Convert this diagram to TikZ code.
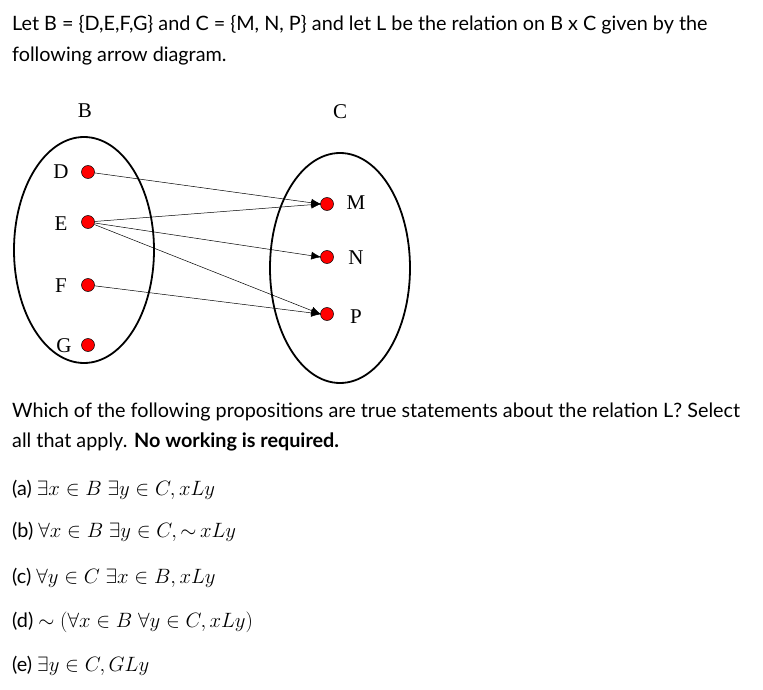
\documentclass[tikz,border=0pt]{standalone}
\usepackage{fontspec}
\setmainfont{Lato}
\newfontfamily\serifB{Liberation Serif}
\usetikzlibrary{arrows.meta}
\tikzset{
  txt/.style={anchor=west, inner sep=0pt, font=\fontsize{19.8}{23}\selectfont},
  mth/.style={anchor=west, inner sep=0pt, font=\fontsize{19.8}{23}\selectfont},
  lbl/.style={inner sep=0pt, font=\serifB\fontsize{21}{24}\selectfont},
  dot/.style={circle, fill=red, draw=black, line width=0.5pt, minimum size=13pt, inner sep=0pt},
  con/.style={-{Latex[length=10pt,width=8pt]}, line width=0.5pt, shorten >=-1pt},
  set/.style={line width=1.8pt}
}
\newcommand{\mz}{\fontsize{22.3}{26}\selectfont}
\begin{document}
\begin{tikzpicture}[x=1pt,y=-1pt]
\useasboundingbox (0,0) rectangle (763,690);
\node[txt] (t1) at (12,25) {Let B = \{D,E,F,G\} and C = \{M, N, P\} and let L be the relation on B x C given by the};
\node[txt] (t2) at (12,56) {following arrow diagram.};
\node[lbl] (B) at (85,111) {B};
\node[lbl] (C) at (340,112) {C};
\draw[set] (84,250) ellipse [x radius=70, y radius=113];
\draw[set] (340,268) ellipse [x radius=70, y radius=115];
\node[dot] (D) at (88,172) {};
\node[dot] (E) at (88,222) {};
\node[dot] (F) at (88,285) {};
\node[dot] (G) at (88,345) {};
\node[dot] (M) at (327,204) {};
\node[dot] (N) at (327,257) {};
\node[dot] (P) at (327,314) {};
\node[lbl] (lD) at (61,172) {D};
\node[lbl] (lE) at (61,224) {E};
\node[lbl] (lF) at (61,286) {F};
\node[lbl] (lG) at (64,346) {G};
\node[lbl] (lM) at (356,203) {M};
\node[lbl] (lN) at (356,258) {N};
\node[lbl] (lP) at (356,317) {P};
\draw[con] (D) -- (M.west);
\draw[con] (E) -- (M.west);
\draw[con] (E) -- (N.west);
\draw[con] (E) -- (P.west);
\draw[con] (F) -- (P.west);
\node[txt] (q1) at (12,412) {Which of the following propositions are true statements about the relation L? Select};
\node[txt] (q2) at (12,442) {all that apply. \textbf{No working is required.}};
\node[mth] (a) at (12,490) {(a) \mz$\exists x\in B\ \exists y\in C, xLy$};
\node[mth] (b) at (12,532) {(b) \mz$\forall x\in B\ \exists y\in C, {\sim}\, xLy$};
\node[mth] (c) at (12,578) {(c) \mz$\forall y\in C\ \exists x\in B, xLy$};
\node[mth] (d) at (12,622) {(d) \mz${\sim}\ (\forall x\in B\ \forall y\in C, xLy)$};
\node[mth] (e) at (12,666) {(e) \mz$\exists y\in C, GLy$};
\end{tikzpicture}
\end{document}
